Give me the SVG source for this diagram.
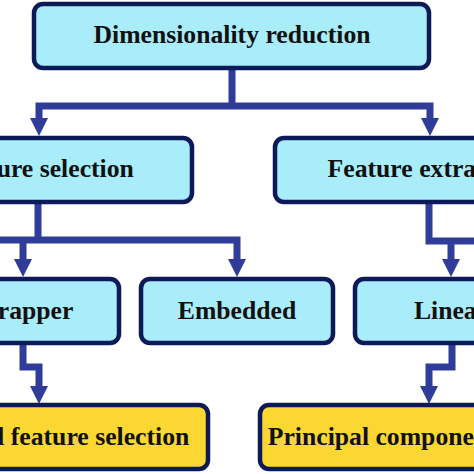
<svg xmlns="http://www.w3.org/2000/svg" width="474" height="474" viewBox="0 0 474 474">
  <style>
    .box { stroke: #0d1a5a; stroke-width: 4.5; }
    .blue { fill: #a8edf9; }
    .yellow { fill: #fbd731; }
    .lbl { font-family: "Liberation Serif", "Times New Roman", serif; font-weight: bold; font-size: 25.7px; fill: #111111; text-anchor: middle; }
    .wire { fill: none; stroke: #2f3c99; stroke-width: 7; stroke-linejoin: miter; }
    .head { fill: #2f3c99; }
  </style>
  <rect x="0" y="0" width="474" height="474" fill="#ffffff"/>
  <g id="connectors">
    <path class="wire" d="M232 70 V106 M39 120 V106 H430 V120"/>
    <polygon class="head" points="30,118 48,118 39,136"/>
    <polygon class="head" points="421,118 439,118 430,136"/>
    <path class="wire" d="M38 204 V240 M-200 240 H237 V261 M23 240 V261"/>
    <polygon class="head" points="14,259 32,259 23,277"/>
    <polygon class="head" points="228,259 246,259 237,277"/>
    <path class="wire" d="M429 204 V241 H700 M451 241 V261"/>
    <polygon class="head" points="442,259 460,259 451,277"/>
    <path class="wire" d="M23 345 V367 H39 V388"/>
    <polygon class="head" points="30,386 48,386 39,404"/>
    <path class="wire" d="M452 345 V367 H429 V388"/>
    <polygon class="head" points="420,386 438,386 429,404"/>
  </g>
  <g id="node-dimensionality-reduction">
    <rect class="box blue" x="34" y="4" width="395" height="64" rx="9"/>
    <text class="lbl" x="232" y="43">Dimensionality reduction</text>
  </g>
  <g id="node-feature-selection">
    <rect class="box blue" x="-116" y="138" width="308" height="64" rx="9"/>
    <text class="lbl" x="41" y="177">Feature selection</text>
  </g>
  <g id="node-feature-extraction">
    <rect class="box blue" x="275" y="138" width="308" height="64" rx="9"/>
    <text class="lbl" x="429" y="177">Feature extraction</text>
  </g>
  <g id="node-wrapper">
    <rect class="box blue" x="-73" y="279" width="192" height="64" rx="9"/>
    <text class="lbl" x="23" y="319">Wrapper</text>
  </g>
  <g id="node-embedded">
    <rect class="box blue" x="141" y="279" width="192" height="64" rx="9"/>
    <text class="lbl" x="237" y="319">Embedded</text>
  </g>
  <g id="node-linear">
    <rect class="box blue" x="355" y="279" width="192" height="64" rx="9"/>
    <text class="lbl" x="451" y="319">Linear</text>
  </g>
  <g id="node-sequential-feature-selection">
    <rect class="box yellow" x="-131" y="405" width="339" height="64" rx="9"/>
    <text class="lbl" x="39" y="445">Sequential feature selection</text>
  </g>
  <g id="node-principal-component-analysis">
    <rect class="box yellow" x="260" y="405" width="339" height="64" rx="9"/>
    <text class="lbl" x="429" y="445">Principal component analysis</text>
  </g>
</svg>
